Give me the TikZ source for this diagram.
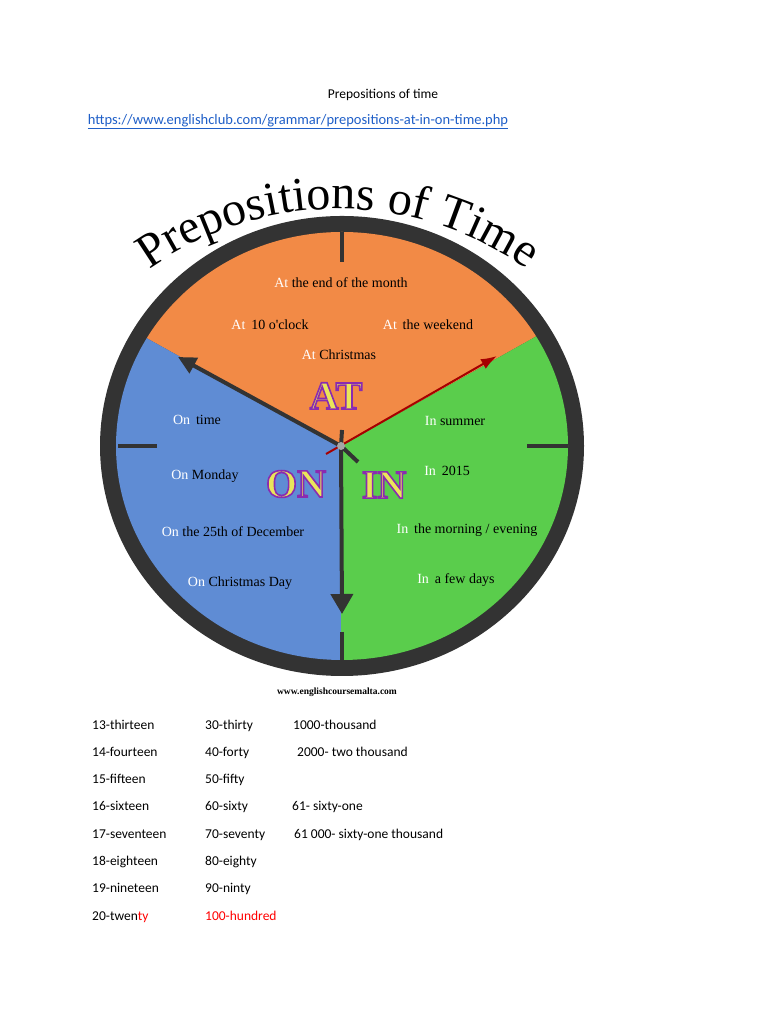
\documentclass[tikz,border=0pt]{standalone}
\usepackage{fontspec}
\setmainfont{Carlito}
\newfontfamily\clk{Liberation Serif}
\usetikzlibrary{decorations.text,arrows.meta}
\definecolor{org}{HTML}{F28A46}
\definecolor{blu}{HTML}{5F8CD4}
\definecolor{grn}{HTML}{5ACD4C}
\definecolor{ring}{HTML}{333333}
\definecolor{yel}{HTML}{EAE55A}
\definecolor{urlblue}{HTML}{1F5FC8}
\begin{document}
\begin{tikzpicture}[x=1pt,y=1pt,
  lab/.style={font=\clk\fontsize{14}{16}\selectfont,inner sep=0},
  big/.style={font=\clk\bfseries\fontsize{40}{44}\selectfont,inner sep=0,text=yel},
  body/.style={font=\fontsize{13.5}{15}\selectfont,anchor=base west,inner sep=0},
  hand/.style={ring,line width=4pt}]
\useasboundingbox (0,0) rectangle (768,1024);
\fill[white] (0,0) rectangle (768,1024);
\newcommand{\pw}[1]{\textcolor{white}{#1}}
\newcommand{\outl}[1]{\special{pdf:literal direct 2 Tr 1.6 w 0.54 0.17 0.69 RG}#1\special{pdf:literal direct 0 Tr}}
% clock
\fill[ring] (342,578) ellipse [x radius=242,y radius=230];
\begin{scope}
\clip (342,578) ellipse [x radius=226,y radius=214];
\fill[org] (341,578) -- (-41,790) -- (-41,950) -- (741,950) -- (729,796) -- cycle;
\fill[blu] (341,578) -- (-41,790) -- (-41,300) -- (341,300) -- cycle;
\fill[grn] (341,578) -- (341,300) -- (741,300) -- (729,796) -- cycle;
\end{scope}
% ticks
\coordinate (C) at (341,578);
\draw[hand] (342,792) -- (342,762);
\draw[hand] (118,578) -- (157,578);
\draw[hand] (527,578) -- (568,578);
\draw[hand] (342,392) -- (342,356);
\draw[hand] (342,594) -- (C);
% hands
\coordinate (h1) at (178,667);
\coordinate (h2) at (342,410);
\coordinate (t1) at (358,562);
\coordinate (r0) at (326,570);
\coordinate (r1) at (497,668);
\draw[hand,-{Triangle[length=18pt,width=17pt]}] (C) -- (h1);
\draw[hand,-{Triangle[length=20pt,width=22pt]}] (C) -- (h2);
\draw[hand] (C) -- (t1);
\draw[red!65!black,line width=2pt,-{Latex[length=16pt,width=11pt]}] (r0) -- (r1);
\fill[gray!70] (C) circle (4);
% title
\path[decorate,decoration={text along path,text align=center,
  text={|\clk\fontsize{48}{52}\selectfont|Prepositions of Time}}]
  (338,490) ++(128:325) arc[start angle=128,end angle=52,radius=325];
% labels
\node[lab] (a1) at (341,741) {\pw{At} the end of the month};
\node[lab] (a2) at (270,699) {\pw{At}\, 10 o'clock};
\node[lab] (a3) at (428,699) {\pw{At}\, the weekend};
\node[lab] (a4) at (339,669) {\pw{At} Christmas};
\node[big] (AT) at (336,628) {\outl{AT}};
\node[lab] (o1) at (197,604) {\pw{On}\, time};
\node[lab] (o2) at (205,548) {\pw{On} Monday};
\node[lab] (o3) at (233,492) {\pw{On} the 25th of December};
\node[lab] (o4) at (240,441) {\pw{On} Christmas Day};
\node[big] (ON) at (296,540) {\outl{ON}};
\node[big] (IN) at (384,539) {\outl{IN}};
\node[lab] (i1) at (455,603) {\pw{In} summer};
\node[lab] (i2) at (447,553) {\pw{In}\, 2015};
\node[lab] (i3) at (467,494) {\pw{In}\, the morning / evening};
\node[lab] (i4) at (456,444) {\pw{In}\, a few days};
\node[font=\clk\bfseries\fontsize{9.5}{10}\selectfont] (web) at (337,332) {www.englishcoursemalta.com};
% header
\node[font=\fontsize{13.5}{15}\selectfont] (hd) at (383,929) {Prepositions of time};
\node[font=\fontsize{14.5}{16}\selectfont,text=urlblue] (url) at (298,902) {\underline{https://www.englishclub.com/grammar/prepositions-at-in-on-time.php}};
% table
\node[body] at (92,294) {13-thirteen};
\node[body] at (205,294) {30-thirty};
\node[body] at (293,294) {1000-thousand};
\node[body] at (92,267) {14-fourteen};
\node[body] at (205,267) {40-forty};
\node[body] at (297,267) {2000- two thousand};
\node[body] at (92,240) {15-fifteen};
\node[body] at (205,240) {50-fifty};
\node[body] at (92,213) {16-sixteen};
\node[body] at (205,213) {60-sixty};
\node[body] at (292,213) {61- sixty-one};
\node[body] at (92,185) {17-seventeen};
\node[body] at (205,185) {70-seventy};
\node[body] at (294,185) {61 000- sixty-one thousand};
\node[body] at (92,158) {18-eighteen};
\node[body] at (205,158) {80-eighty};
\node[body] at (92,131) {19-nineteen};
\node[body] at (205,131) {90-ninty};
\node[body] at (92,103) {20-twen\textcolor{red}{ty}};
\node[body,text=red] at (205,103) {100-hundred};
\end{tikzpicture}
\end{document}
